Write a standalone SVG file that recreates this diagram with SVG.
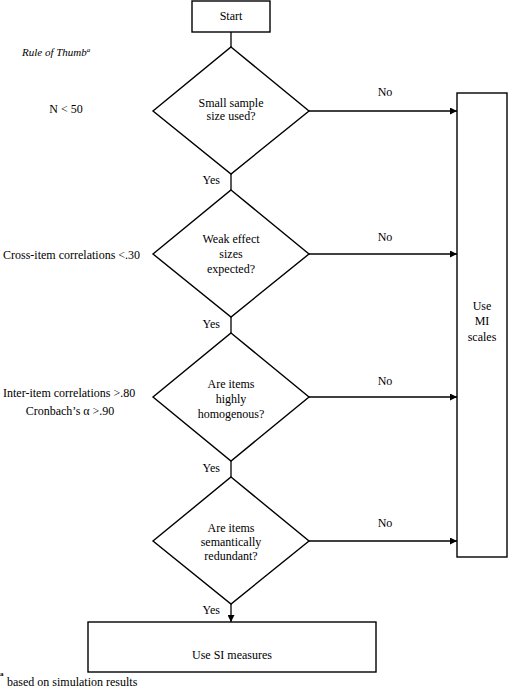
<svg xmlns="http://www.w3.org/2000/svg" width="508" height="689" viewBox="0 0 508 689" font-family="'Liberation Serif', 'Times New Roman', 'DejaVu Serif', serif" font-size="12">
<defs>
<style>
text{font-family:'Liberation Serif','Times New Roman','DejaVu Serif',serif;font-size:12px;fill:#000}
.c{text-anchor:middle}
.e{text-anchor:end}
.shape{fill:#fff;stroke:#000;stroke-width:1.4}
.ln{fill:none;stroke:#000;stroke-width:1.3}
</style>
<marker id="ah" viewBox="0 0 10 10" refX="10" refY="5" markerWidth="7" markerHeight="7" markerUnits="userSpaceOnUse" orient="auto">
<path d="M0,0 L10,5 L0,10 z" fill="#000"/>
</marker>
</defs>
<rect width="508" height="689" fill="#fff"/>
<g id="connectors">
<line class="ln" x1="231" y1="32" x2="231" y2="47"/>
<line class="ln" x1="231" y1="174" x2="231" y2="190"/>
<line class="ln" x1="231" y1="317" x2="231" y2="333"/>
<line class="ln" x1="231" y1="461" x2="231" y2="477"/>
<line class="ln" x1="231" y1="604" x2="231" y2="622" marker-end="url(#ah)"/>
<line class="ln" x1="309" y1="111" x2="457" y2="111" marker-end="url(#ah)"/>
<line class="ln" x1="309" y1="254" x2="457" y2="254" marker-end="url(#ah)"/>
<line class="ln" x1="309" y1="397" x2="457" y2="397" marker-end="url(#ah)"/>
<line class="ln" x1="309" y1="541" x2="457" y2="541" marker-end="url(#ah)"/>
<text class="c" x="385" y="96">No</text>
<text class="c" x="385" y="241">No</text>
<text class="c" x="385" y="385">No</text>
<text class="c" x="385" y="527">No</text>
<text class="e" x="220" y="184">Yes</text>
<text class="e" x="220" y="328">Yes</text>
<text class="e" x="220" y="472">Yes</text>
<text class="e" x="220" y="614">Yes</text>
</g>
<g id="start">
<rect class="shape" x="192" y="1" width="78" height="31"/>
<text class="c" x="231" y="20">Start</text>
</g>
<g id="d1">
<polygon class="shape" points="231,47 309,111 231,174 153,111"/>
<text class="c" x="231" y="107">Small sample</text>
<text class="c" x="231" y="120">size used?</text>
</g>
<g id="d2">
<polygon class="shape" points="231,190 309,254 231,317 153,254"/>
<text class="c" x="231" y="243">Weak effect</text>
<text class="c" x="231" y="258">sizes</text>
<text class="c" x="231" y="273">expected?</text>
</g>
<g id="d3">
<polygon class="shape" points="231,333 309,397 231,461 153,397"/>
<text class="c" x="231" y="388">Are items</text>
<text class="c" x="231" y="403">highly</text>
<text class="c" x="231" y="418">homogenous?</text>
</g>
<g id="d4">
<polygon class="shape" points="231,477 309,541 231,604 153,541"/>
<text class="c" x="231" y="532">Are items</text>
<text class="c" x="231" y="546">semantically</text>
<text class="c" x="231" y="560">redundant?</text>
</g>
<g id="m1">
<rect class="shape" x="457" y="93" width="50" height="464"/>
<text class="c" x="482" y="310">Use</text>
<text class="c" x="482" y="325">MI</text>
<text class="c" x="482" y="341">scales</text>
</g>
<g id="si">
<rect class="shape" x="88" y="622" width="288" height="50"/>
<text class="c" x="232" y="659">Use SI measures</text>
</g>
<g id="rules">
<text x="22" y="56" font-style="italic" style="font-size:11px">Rule of Thumb<tspan style="font-size:7px" dy="-4">a</tspan></text>
<text class="c" x="66" y="113">N &lt; 50</text>
<text x="3" y="259">Cross-item correlations &lt;.30</text>
<text x="3" y="397">Inter-item correlations &gt;.80</text>
<text class="c" x="70" y="415">Cronbach’s α &gt;.90</text>
<text x="0" y="676" font-weight="bold" style="font-size:7px">a</text>
<text x="7" y="686">based on simulation results</text>
</g>
</svg>
